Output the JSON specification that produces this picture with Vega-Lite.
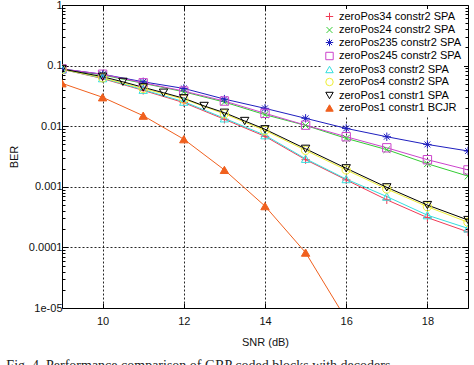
{
  "$schema": "https://vega.github.io/schema/vega-lite/v6.json",
  "width": 406,
  "height": 303,
  "autosize": "none",
  "padding": {"left": 62, "top": 5, "right": 6, "bottom": 57},
  "background": "white",
  "title": {"text": "Fig. 4.  Performance comparison of GRP coded blocks with decoders", "orient": "bottom", "anchor": "start", "font": "Liberation Serif", "fontSize": 14, "fontWeight": "normal", "color": "#222", "dx": -2, "offset": 12},
  "data": {"values": [
    {"s": "zeroPos34 constr2 SPA", "x": 9, "y": 0.087}, {"s": "zeroPos34 constr2 SPA", "x": 10, "y": 0.061}, {"s": "zeroPos34 constr2 SPA", "x": 11, "y": 0.039}, {"s": "zeroPos34 constr2 SPA", "x": 12, "y": 0.0245}, {"s": "zeroPos34 constr2 SPA", "x": 13, "y": 0.013}, {"s": "zeroPos34 constr2 SPA", "x": 14, "y": 0.0068}, {"s": "zeroPos34 constr2 SPA", "x": 15, "y": 0.0028}, {"s": "zeroPos34 constr2 SPA", "x": 16, "y": 0.0013}, {"s": "zeroPos34 constr2 SPA", "x": 17, "y": 0.00061}, {"s": "zeroPos34 constr2 SPA", "x": 18, "y": 0.00031}, {"s": "zeroPos34 constr2 SPA", "x": 19, "y": 0.00018},
    {"s": "zeroPos24 constr2 SPA", "x": 9, "y": 0.088}, {"s": "zeroPos24 constr2 SPA", "x": 10, "y": 0.07}, {"s": "zeroPos24 constr2 SPA", "x": 11, "y": 0.051}, {"s": "zeroPos24 constr2 SPA", "x": 12, "y": 0.037}, {"s": "zeroPos24 constr2 SPA", "x": 13, "y": 0.025}, {"s": "zeroPos24 constr2 SPA", "x": 14, "y": 0.0155}, {"s": "zeroPos24 constr2 SPA", "x": 15, "y": 0.0103}, {"s": "zeroPos24 constr2 SPA", "x": 16, "y": 0.0063}, {"s": "zeroPos24 constr2 SPA", "x": 17, "y": 0.0041}, {"s": "zeroPos24 constr2 SPA", "x": 18, "y": 0.0024}, {"s": "zeroPos24 constr2 SPA", "x": 19, "y": 0.0015},
    {"s": "zeroPos235 constr2 SPA", "x": 9, "y": 0.088}, {"s": "zeroPos235 constr2 SPA", "x": 10, "y": 0.072}, {"s": "zeroPos235 constr2 SPA", "x": 11, "y": 0.054}, {"s": "zeroPos235 constr2 SPA", "x": 12, "y": 0.042}, {"s": "zeroPos235 constr2 SPA", "x": 13, "y": 0.028}, {"s": "zeroPos235 constr2 SPA", "x": 14, "y": 0.0197}, {"s": "zeroPos235 constr2 SPA", "x": 15, "y": 0.0135}, {"s": "zeroPos235 constr2 SPA", "x": 16, "y": 0.0092}, {"s": "zeroPos235 constr2 SPA", "x": 17, "y": 0.0067}, {"s": "zeroPos235 constr2 SPA", "x": 18, "y": 0.005}, {"s": "zeroPos235 constr2 SPA", "x": 19, "y": 0.0039},
    {"s": "zeroPos245 constr2 SPA", "x": 9, "y": 0.088}, {"s": "zeroPos245 constr2 SPA", "x": 10, "y": 0.072}, {"s": "zeroPos245 constr2 SPA", "x": 11, "y": 0.052}, {"s": "zeroPos245 constr2 SPA", "x": 12, "y": 0.038}, {"s": "zeroPos245 constr2 SPA", "x": 13, "y": 0.026}, {"s": "zeroPos245 constr2 SPA", "x": 14, "y": 0.0163}, {"s": "zeroPos245 constr2 SPA", "x": 15, "y": 0.0104}, {"s": "zeroPos245 constr2 SPA", "x": 16, "y": 0.0067}, {"s": "zeroPos245 constr2 SPA", "x": 17, "y": 0.0044}, {"s": "zeroPos245 constr2 SPA", "x": 18, "y": 0.0028}, {"s": "zeroPos245 constr2 SPA", "x": 19, "y": 0.0019},
    {"s": "zeroPos3 constr2 SPA", "x": 9, "y": 0.087}, {"s": "zeroPos3 constr2 SPA", "x": 10, "y": 0.062}, {"s": "zeroPos3 constr2 SPA", "x": 11, "y": 0.04}, {"s": "zeroPos3 constr2 SPA", "x": 12, "y": 0.0254}, {"s": "zeroPos3 constr2 SPA", "x": 13, "y": 0.0135}, {"s": "zeroPos3 constr2 SPA", "x": 14, "y": 0.0071}, {"s": "zeroPos3 constr2 SPA", "x": 15, "y": 0.0029}, {"s": "zeroPos3 constr2 SPA", "x": 16, "y": 0.00134}, {"s": "zeroPos3 constr2 SPA", "x": 17, "y": 0.00069}, {"s": "zeroPos3 constr2 SPA", "x": 18, "y": 0.00034}, {"s": "zeroPos3 constr2 SPA", "x": 19, "y": 0.000206},
    {"s": "zeroPos4 constr2 SPA", "x": 9, "y": 0.087}, {"s": "zeroPos4 constr2 SPA", "x": 10, "y": 0.063}, {"s": "zeroPos4 constr2 SPA", "x": 11, "y": 0.042}, {"s": "zeroPos4 constr2 SPA", "x": 12, "y": 0.028}, {"s": "zeroPos4 constr2 SPA", "x": 13, "y": 0.016}, {"s": "zeroPos4 constr2 SPA", "x": 14, "y": 0.0085}, {"s": "zeroPos4 constr2 SPA", "x": 15, "y": 0.004}, {"s": "zeroPos4 constr2 SPA", "x": 16, "y": 0.0019}, {"s": "zeroPos4 constr2 SPA", "x": 17, "y": 0.00092}, {"s": "zeroPos4 constr2 SPA", "x": 18, "y": 0.00047}, {"s": "zeroPos4 constr2 SPA", "x": 19, "y": 0.00026},
    {"s": "zeroPos1 constr1 SPA", "x": 9, "y": 0.088}, {"s": "zeroPos1 constr1 SPA", "x": 10, "y": 0.0656}, {"s": "zeroPos1 constr1 SPA", "x": 10.5, "y": 0.054}, {"s": "zeroPos1 constr1 SPA", "x": 11, "y": 0.0438}, {"s": "zeroPos1 constr1 SPA", "x": 11.5, "y": 0.0357}, {"s": "zeroPos1 constr1 SPA", "x": 12, "y": 0.0289}, {"s": "zeroPos1 constr1 SPA", "x": 12.5, "y": 0.0216}, {"s": "zeroPos1 constr1 SPA", "x": 13, "y": 0.0167}, {"s": "zeroPos1 constr1 SPA", "x": 13.5, "y": 0.0122}, {"s": "zeroPos1 constr1 SPA", "x": 14, "y": 0.0089}, {"s": "zeroPos1 constr1 SPA", "x": 15, "y": 0.00424}, {"s": "zeroPos1 constr1 SPA", "x": 16, "y": 0.00202}, {"s": "zeroPos1 constr1 SPA", "x": 17, "y": 0.00098}, {"s": "zeroPos1 constr1 SPA", "x": 18, "y": 0.0005}, {"s": "zeroPos1 constr1 SPA", "x": 19, "y": 0.000283},
    {"s": "zeroPos1 constr1 BCJR", "x": 9, "y": 0.051}, {"s": "zeroPos1 constr1 BCJR", "x": 10, "y": 0.03}, {"s": "zeroPos1 constr1 BCJR", "x": 11, "y": 0.0149}, {"s": "zeroPos1 constr1 BCJR", "x": 12, "y": 0.0061}, {"s": "zeroPos1 constr1 BCJR", "x": 13, "y": 0.0019}, {"s": "zeroPos1 constr1 BCJR", "x": 14, "y": 0.00048}, {"s": "zeroPos1 constr1 BCJR", "x": 15, "y": 0.000082}, {"s": "zeroPos1 constr1 BCJR", "x": 16, "y": 0.0000065}
  ]},
  "encoding": {
    "color": {"field": "s", "type": "nominal", "title": null,
      "scale": {"domain": ["zeroPos34 constr2 SPA", "zeroPos24 constr2 SPA", "zeroPos235 constr2 SPA", "zeroPos245 constr2 SPA", "zeroPos3 constr2 SPA", "zeroPos4 constr2 SPA", "zeroPos1 constr1 SPA", "zeroPos1 constr1 BCJR"],
        "range": ["#f03a55", "#33cc33", "#1f1fbf", "#cc44cc", "#33dede", "#eeee33", "#000000", "#f0601e"]}}
  },
  "layer": [
    {
      "mark": {"type": "line", "strokeWidth": 1, "clip": true},
      "encoding": {
        "x": {"field": "x", "type": "quantitative", "scale": {"domain": [9, 19], "nice": false, "zero": false},
          "axis": {"title": "SNR (dB)", "values": [10, 12, 14, 16, 18], "grid": true, "gridColor": "black", "gridDash": [2, 2], "gridOpacity": 0.85, "tickSize": -5, "labelPadding": 12, "titlePadding": 10, "labelFlush": false}},
        "y": {"field": "y", "type": "quantitative", "scale": {"type": "log", "domain": [0.00001, 1], "nice": false},
          "axis": {"title": "BER", "titlePadding": 9,
            "values": [0.00001, 0.00002, 0.00003, 0.00004, 0.00005, 0.00006, 0.00007, 0.00008, 0.00009, 0.0001, 0.0002, 0.0003, 0.0004, 0.0005, 0.0006, 0.0007, 0.0008, 0.0009, 0.001, 0.002, 0.003, 0.004, 0.005, 0.006, 0.007, 0.008, 0.009, 0.01, 0.02, 0.03, 0.04, 0.05, 0.06, 0.07, 0.08, 0.09, 0.1, 0.2, 0.3, 0.4, 0.5, 0.6, 0.7, 0.8, 0.9, 1],
            "labelExpr": "datum.value < 0.000011 ? '1e-05' : (datum.value > 0.000099 && datum.value < 0.000101) ? '0.0001' : (datum.value > 0.00099 && datum.value < 0.00101) ? '0.001' : (datum.value > 0.0099 && datum.value < 0.0101) ? '0.01' : (datum.value > 0.099 && datum.value < 0.101) ? '0.1' : datum.value > 0.99 ? '1' : ''",
            "grid": true, "gridColor": "black", "gridDash": [2, 2],
            "gridOpacity": {"condition": {"test": "abs(log(datum.value)/LN10 - round(log(datum.value)/LN10)) < 0.001 && datum.value > 0.00002 && datum.value < 0.5", "value": 0.85}, "value": 0},
            "tickSize": {"condition": {"test": "abs(log(datum.value)/LN10 - round(log(datum.value)/LN10)) < 0.001", "value": -6}, "value": -3},
            "labelPadding": 6}}
      }
    },
    {
      "mark": {"type": "point", "size": 70, "strokeWidth": 1, "filled": false, "opacity": 1, "clip": true},
      "encoding": {
        "x": {"field": "x", "type": "quantitative", "axis": {"orient": "top", "values": [10, 12, 14, 16, 18], "labels": false, "title": null, "grid": false, "tickSize": -5}},
        "y": {"field": "y", "type": "quantitative",
          "axis": {"orient": "right", "title": null, "labels": false, "grid": false,
            "values": [0.00001, 0.00002, 0.00003, 0.00004, 0.00005, 0.00006, 0.00007, 0.00008, 0.00009, 0.0001, 0.0002, 0.0003, 0.0004, 0.0005, 0.0006, 0.0007, 0.0008, 0.0009, 0.001, 0.002, 0.003, 0.004, 0.005, 0.006, 0.007, 0.008, 0.009, 0.01, 0.02, 0.03, 0.04, 0.05, 0.06, 0.07, 0.08, 0.09, 0.1, 0.2, 0.3, 0.4, 0.5, 0.6, 0.7, 0.8, 0.9, 1],
            "tickSize": {"condition": {"test": "abs(log(datum.value)/LN10 - round(log(datum.value)/LN10)) < 0.001", "value": -6}, "value": -3}}},
        "shape": {"field": "s", "type": "nominal", "title": null,
          "scale": {"domain": ["zeroPos34 constr2 SPA", "zeroPos24 constr2 SPA", "zeroPos235 constr2 SPA", "zeroPos245 constr2 SPA", "zeroPos3 constr2 SPA", "zeroPos4 constr2 SPA", "zeroPos1 constr1 SPA", "zeroPos1 constr1 BCJR"],
            "range": ["M-1,0H1M0,-1V1", "M-0.8,-0.8L0.8,0.8M-0.8,0.8L0.8,-0.8", "M-1,0H1M0,-1V1M-0.7,-0.7L0.7,0.7M-0.7,0.7L0.7,-0.7", "square", "triangle-up", "circle", "triangle-down", "triangle-up"]}},
        "fill": {"field": "s", "type": "nominal", "title": null,
          "scale": {"domain": ["zeroPos34 constr2 SPA", "zeroPos24 constr2 SPA", "zeroPos235 constr2 SPA", "zeroPos245 constr2 SPA", "zeroPos3 constr2 SPA", "zeroPos4 constr2 SPA", "zeroPos1 constr1 SPA", "zeroPos1 constr1 BCJR"],
            "range": ["transparent", "transparent", "transparent", "transparent", "transparent", "transparent", "transparent", "#f0601e"]}}
      }
    }
  ],
  "resolve": {"axis": {"x": "independent", "y": "independent"}},
  "config": {
    "view": {"stroke": "black", "strokeWidth": 1},
    "font": "Liberation Sans",
    "axis": {"labelFont": "Liberation Sans", "titleFont": "Liberation Sans", "labelFontSize": 11, "titleFontSize": 11, "titleFontWeight": "normal", "labelColor": "#111", "titleColor": "#111", "domain": false, "tickColor": "black"},
    "legend": {"orient": "top-right", "offset": 4, "labelFont": "Liberation Sans", "labelFontSize": 11, "labelColor": "black", "rowPadding": 0.5, "symbolSize": 55, "symbolStrokeWidth": 1, "fillColor": "white", "padding": 2, "labelLimit": 250}
  }
}
